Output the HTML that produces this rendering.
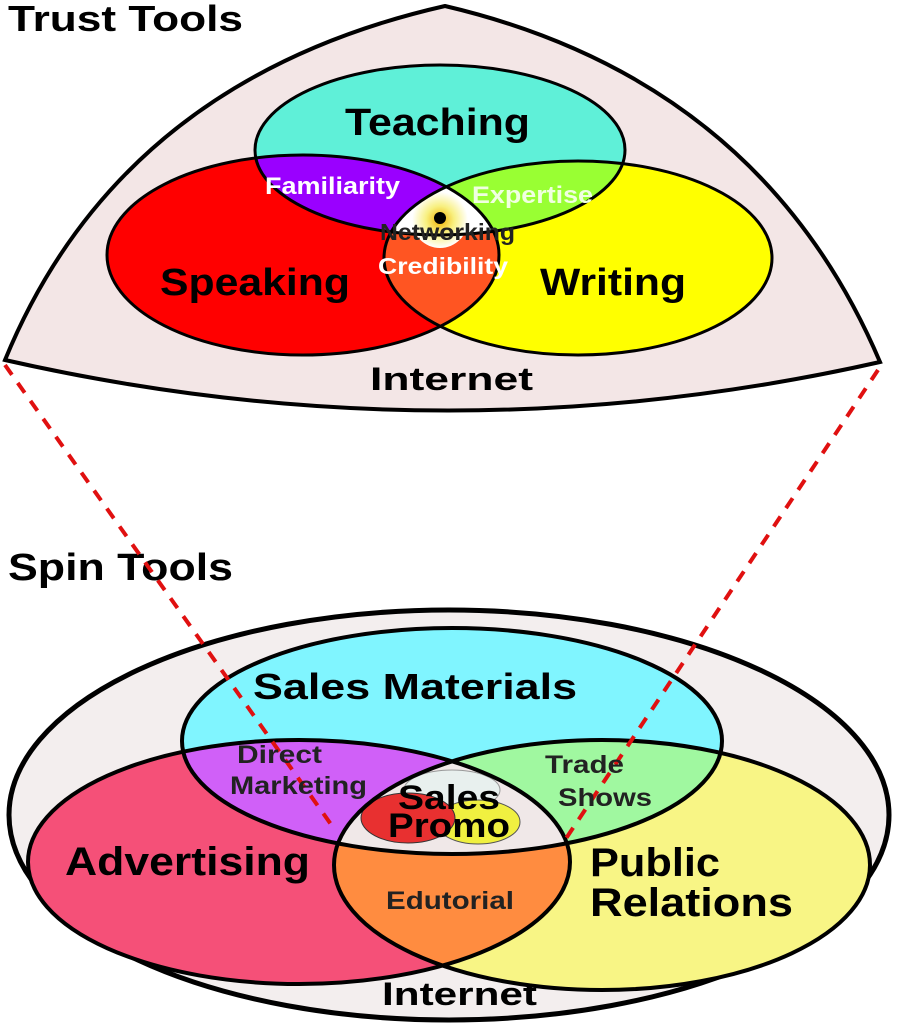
<!DOCTYPE html>
<html><head><style>body{margin:0;background:#fff}svg{display:block}text{font-family:"Liberation Sans",Arial,sans-serif;font-weight:bold}</style></head><body>
<svg width="899" height="1024" viewBox="0 0 899 1024" xmlns="http://www.w3.org/2000/svg">
<defs>
<clipPath id="cT"><ellipse cx="440" cy="150" rx="185" ry="85"/></clipPath>
<clipPath id="cS"><ellipse cx="303" cy="255" rx="196" ry="100"/></clipPath>
<clipPath id="cW"><ellipse cx="578" cy="258" rx="194" ry="97"/></clipPath>
<clipPath id="bM"><ellipse cx="452" cy="741" rx="270" ry="113"/></clipPath>
<clipPath id="bA"><ellipse cx="299" cy="862" rx="271" ry="122"/></clipPath>
<clipPath id="bP"><ellipse cx="602" cy="865" rx="268" ry="125"/></clipPath>
<radialGradient id="g"><stop offset="0" stop-color="#f0b000"/><stop offset="0.5" stop-color="#f8f080"/><stop offset="1" stop-color="#fff"/></radialGradient>
</defs>
<text x="8" y="31" font-size="36" textLength="235" lengthAdjust="spacingAndGlyphs">Trust Tools</text>
<path d="M5,360 Q120,80 445,6 Q760,80 880,362 Q445,460 5,360 Z" fill="#f3e6e6" stroke="#000" stroke-width="4"/>
<ellipse cx="303" cy="255" rx="196" ry="100" fill="#ff0000"/>
<ellipse cx="578" cy="258" rx="194" ry="97" fill="#ffff00"/>
<ellipse cx="440" cy="150" rx="185" ry="85" fill="#5ff0d8"/>
<g clip-path="url(#cT)"><ellipse cx="303" cy="255" rx="196" ry="100" fill="#9a00ff"/><ellipse cx="578" cy="258" rx="194" ry="97" fill="#99ff33"/></g>
<g clip-path="url(#cS)"><ellipse cx="578" cy="258" rx="194" ry="97" fill="#ff5522"/><g clip-path="url(#cW)"><ellipse cx="440" cy="150" rx="185" ry="85" fill="#fff"/><circle cx="440" cy="220" r="28" fill="url(#g)"/><circle cx="440" cy="218" r="6" fill="#000"/></g></g>
<g fill="none" stroke="#000" stroke-width="3"><ellipse cx="440" cy="150" rx="185" ry="85"/><ellipse cx="303" cy="255" rx="196" ry="100"/><ellipse cx="578" cy="258" rx="194" ry="97"/></g>
<text x="345" y="135" font-size="38" textLength="185" lengthAdjust="spacingAndGlyphs">Teaching</text>
<text x="265" y="194" font-size="24" fill="#fff" textLength="135" lengthAdjust="spacingAndGlyphs">Familiarity</text>
<text x="472" y="203" font-size="24" fill="#f0ffe0" textLength="121" lengthAdjust="spacingAndGlyphs">Expertise</text>
<text x="380" y="240" font-size="23" fill="#222" textLength="135" lengthAdjust="spacingAndGlyphs">Networking</text>
<text x="378" y="274" font-size="23" fill="#fff" textLength="130" lengthAdjust="spacingAndGlyphs">Credibility</text>
<text x="160" y="295" font-size="38" textLength="190" lengthAdjust="spacingAndGlyphs">Speaking</text>
<text x="540" y="295" font-size="38" textLength="146" lengthAdjust="spacingAndGlyphs">Writing</text>
<text x="370" y="390" font-size="32" textLength="163" lengthAdjust="spacingAndGlyphs">Internet</text>
<text x="8" y="580" font-size="38" textLength="225" lengthAdjust="spacingAndGlyphs">Spin Tools</text>
<ellipse cx="449" cy="815" rx="440" ry="205" fill="#f3eeee" stroke="#000" stroke-width="5"/>
<ellipse cx="299" cy="862" rx="271" ry="122" fill="#f55078"/>
<ellipse cx="602" cy="865" rx="268" ry="125" fill="#f8f585"/>
<ellipse cx="452" cy="741" rx="270" ry="113" fill="#80f5ff"/>
<g clip-path="url(#bM)"><ellipse cx="299" cy="862" rx="271" ry="122" fill="#d060f8"/><ellipse cx="602" cy="865" rx="268" ry="125" fill="#a0f8a0"/></g>
<g clip-path="url(#bA)"><ellipse cx="602" cy="865" rx="268" ry="125" fill="#ff8c40"/><g clip-path="url(#bP)"><ellipse cx="452" cy="741" rx="270" ry="113" fill="#f0e8e8"/>
<ellipse cx="452" cy="790" rx="48" ry="20" fill="#e8f0ee" stroke="#999"/>
<ellipse cx="478" cy="822" rx="42" ry="22" fill="#f0f040" stroke="#555"/>
<ellipse cx="408" cy="818" rx="47" ry="25" fill="#e83030" stroke="#333"/></g></g>
<g fill="none" stroke="#000" stroke-width="4"><ellipse cx="452" cy="741" rx="270" ry="113"/><ellipse cx="299" cy="862" rx="271" ry="122"/><ellipse cx="602" cy="865" rx="268" ry="125"/></g>
<g stroke="#e01010" stroke-width="4" stroke-dasharray="12,10"><line x1="5" y1="365" x2="335" y2="830"/><line x1="878" y1="370" x2="565" y2="840"/></g>
<text x="253" y="699" font-size="36" textLength="324" lengthAdjust="spacingAndGlyphs">Sales Materials</text>
<text x="237" y="763" font-size="25" fill="#222" textLength="85" lengthAdjust="spacingAndGlyphs">Direct</text>
<text x="230" y="794" font-size="25" fill="#222" textLength="137" lengthAdjust="spacingAndGlyphs">Marketing</text>
<text x="545" y="773" font-size="25" fill="#222" textLength="79" lengthAdjust="spacingAndGlyphs">Trade</text>
<text x="558" y="806" font-size="25" fill="#222" textLength="94" lengthAdjust="spacingAndGlyphs">Shows</text>
<text x="398" y="809" font-size="34" textLength="102" lengthAdjust="spacingAndGlyphs">Sales</text>
<text x="388" y="837" font-size="34" textLength="122" lengthAdjust="spacingAndGlyphs">Promo</text>
<text x="386" y="909" font-size="25" fill="#222" textLength="128" lengthAdjust="spacingAndGlyphs">Edutorial</text>
<text x="65" y="875" font-size="40" textLength="245" lengthAdjust="spacingAndGlyphs">Advertising</text>
<text x="590" y="876" font-size="40" textLength="130" lengthAdjust="spacingAndGlyphs">Public</text>
<text x="590" y="916" font-size="40" textLength="203" lengthAdjust="spacingAndGlyphs">Relations</text>
<text x="382" y="1005" font-size="32" textLength="155" lengthAdjust="spacingAndGlyphs">Internet</text>
</svg>
</body></html>
